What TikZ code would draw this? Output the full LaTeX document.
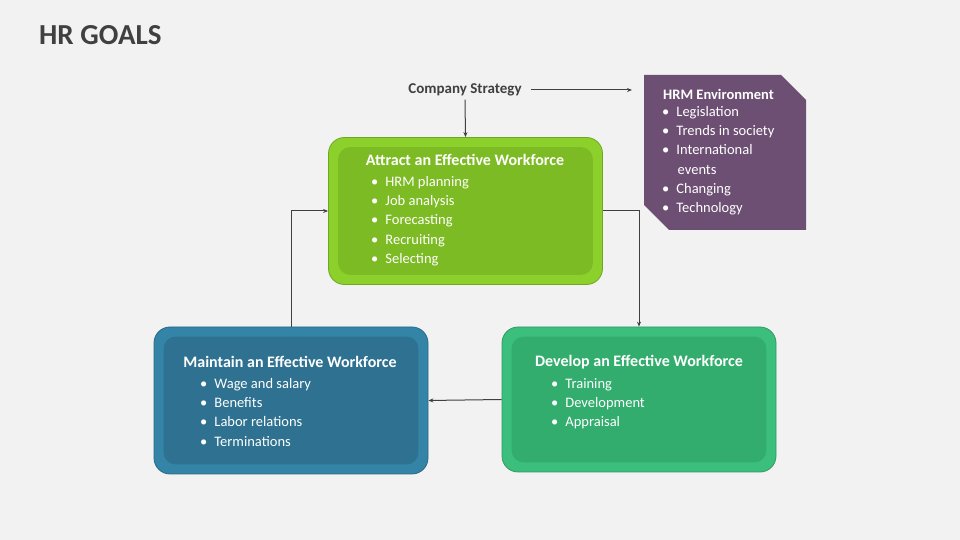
\documentclass[tikz,border=0pt]{standalone}
\usepackage{fontspec}
\setmainfont{Carlito}
\usetikzlibrary{arrows.meta}
\definecolor{bg}{HTML}{F2F2F2}
\definecolor{dark}{HTML}{404040}
\definecolor{gO}{HTML}{8CD12B}\definecolor{gI}{HTML}{7CBB23}
\definecolor{bO}{HTML}{3384A6}\definecolor{bI}{HTML}{2E7190}
\definecolor{tO}{HTML}{3CBF7C}\definecolor{tI}{HTML}{33AD6E}
\definecolor{pu}{HTML}{6D4F73}
\tikzset{
 box/.style={draw=#1!80!black,line width=0.8pt,fill=#1,rounded corners=16pt,minimum width=274pt,minimum height=147pt,inner sep=0},
 ttl/.style={text=white,font=\bfseries\fontsize{16}{19}\selectfont},
 lst/.style={text=white,font=\fontsize{14.5}{19.3}\selectfont,align=left,anchor=north west,inner sep=0},
 con/.style={draw=dark,line width=1pt,-{Stealth[length=5pt,width=4pt]}},
}
\newcommand{\bl}[1]{\textbullet\hspace{7pt}#1}
\begin{document}
\begin{tikzpicture}[x=1pt,y=1pt]
\fill[bg] (0,0) rectangle (960,540);
\useasboundingbox (0,0) rectangle (960,540);
\node[anchor=west,text=dark,font=\bfseries\fontsize{29}{34}\selectfont,inner sep=0] (title) at (39,505) {HR GOALS};
% boxes
\node[box=gO] (att) at (465.5,329) {};
\fill[gI,rounded corners=12pt] ([shift={(10,-10)}]att.north west) rectangle ([shift={(-10,10)}]att.south east);
\node[box=bO] (mai) at (291,139.5) {};
\fill[bI,rounded corners=12pt] ([shift={(10,-10)}]mai.north west) rectangle ([shift={(-10,10)}]mai.south east);
\node[box=tO,minimum height=145pt] (dev) at (639,140.5) {};
\fill[tI,rounded corners=12pt] ([shift={(10,-10)}]dev.north west) rectangle ([shift={(-10,10)}]dev.south east);
% texts
\node[ttl] (attT) at (465,380) {Attract an Effective Workforce};
\node[lst] (attL) at (371,364) {\bl{HRM planning}\\\bl{Job analysis}\\\bl{Forecasting}\\\bl{Recruiting}\\\bl{Selecting}};
\node[ttl] (maiT) at (290,178) {Maintain an Effective Workforce};
\node[lst] (maiL) at (200,162) {\bl{Wage and salary}\\\bl{Benefits}\\\bl{Labor relations}\\\bl{Terminations}};
\node[ttl] (devT) at (639,178) {Develop an Effective Workforce};
\node[lst] (devL) at (551,162) {\bl{Training}\\\bl{Development}\\\bl{Appraisal}};
% purple
\fill[pu] (644,465) -- (781,465) -- (806,440) -- (806,310) -- (669,310) -- (644,335) -- cycle;
\node[text=white,font=\bfseries\fontsize{14.5}{17}\selectfont,anchor=west,inner sep=0] (envT) at (663,446) {HRM Environment};
\node[lst] (envL) at (662,434) {\bl{Legislation}\\\bl{Trends in society}\\\bl{International}\\\hspace*{15.5pt}events\\\bl{Changing}\\\bl{Technology}};
% strategy
\node[text=dark,font=\bfseries\fontsize{15}{18}\selectfont] (cs) at (465,450) {Company Strategy};
\coordinate (envIn) at (632,450);
\draw[con] (cs.east) ++(6,0) -- (envIn);
\draw[con] (cs.south) -- (att.north);
\draw[con] (att.east) -| (dev.north);
\draw[con] (dev.west) -- (mai.east);
\draw[con] (mai.north) |- (att.west);
\end{tikzpicture}
\end{document}
